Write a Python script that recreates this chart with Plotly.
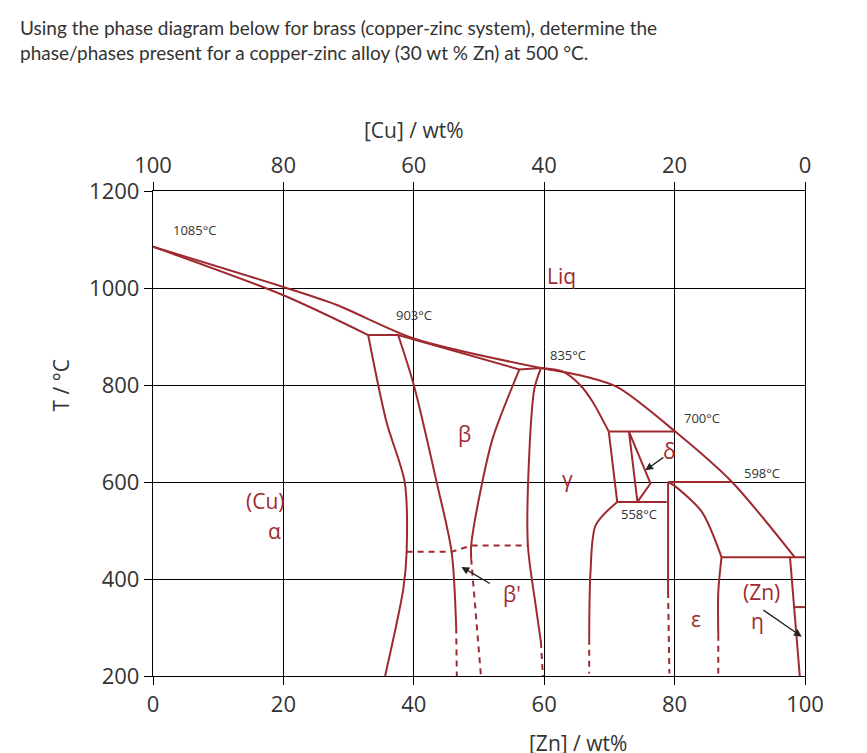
import plotly.graph_objects as go

# ---- data (wt% Zn, T in °C) ----
liquidus_x = [0, 20, 28.2, 40, 59.5]
liquidus_t = [1085, 1002, 965, 896, 835]
liquidus2_x = [59.5, 66.4, 71.3, 80.1, 88.8, 98.4]
liquidus2_t = [835, 817, 795, 704, 600, 445]
alpha_sol_x = [0, 20, 33.0]
alpha_sol_t = [1085, 985, 903]
beta_sol_x = [33.0, 37.6, 56.2, 59.5]
beta_sol_t = [903, 903, 832, 835]
alpha_solvus_x = [33.0, 35.8, 38.6, 38.9, 38.4, 35.6]
alpha_solvus_t = [903, 724, 600, 456, 380, 200]
beta_left_x = [37.6, 40.0, 43.5, 45.8, 46.5]
beta_left_t = [903, 800, 600, 456, 300]
beta_left_dash_x = [46.5, 46.6]
beta_left_dash_t = [300, 200]
beta_right_x = [56.2, 52.1, 50.1, 48.8, 48.8]
beta_right_t = [832, 690, 573, 469, 442]
beta_right_dash_x = [48.8, 50.3]
beta_right_dash_t = [442, 200]
order_dash_x = [38.9, 45.8, 48.8, 57.5]
order_dash_t = [456, 456, 469, 469]
gamma_left_x = [59.5, 58.5, 57.7, 57.5, 58.7, 59.5]
gamma_left_t = [835, 793, 655, 469, 345, 270]
gamma_left_dash_x = [59.5, 59.8]
gamma_left_dash_t = [270, 200]
gamma_sol_x = [59.5, 62.8, 65.5, 67.4, 69.9]
gamma_sol_t = [835, 828, 800, 766, 704]
p700_x = [69.9, 80.1]
p700_t = [704, 704]
gamma_right_x = [69.9, 71.2, 78.8]
gamma_right_t = [704, 559, 559]
gamma_low_x = [71.2, 67.9, 67.1, 66.9]
gamma_low_t = [559, 511, 414, 277]
gamma_low_dash_x = [66.9, 66.9]
gamma_low_dash_t = [277, 205]
delta_x = [74.3, 73.0, 76.3, 74.3]
delta_t = [559, 704, 597, 559]
eps_left_x = [79.0, 79.0, 79.0]
eps_left_t = [600, 559, 373]
eps_left_dash_x = [79.0, 79.2]
eps_left_dash_t = [373, 205]
p598_x = [79.0, 88.8]
p598_t = [600, 600]
eps_right_x = [79.0, 79.9, 84.2, 87.2]
eps_right_t = [600, 593, 538, 445]
eps_right2_x = [87.2, 86.7, 86.7]
eps_right2_t = [445, 373, 285]
eps_right_dash_x = [86.7, 86.7]
eps_right_dash_t = [285, 205]
p420_x = [87.2, 100.2]
p420_t = [445, 445]
zn_solvus_x = [97.7, 99.2]
zn_solvus_t = [445, 200]
zn_tick_x = [98.4, 100]
zn_tick_t = [342, 342]

curved = [(liquidus_x, liquidus_t), (liquidus2_x, liquidus2_t), (alpha_sol_x, alpha_sol_t),
          (alpha_solvus_x, alpha_solvus_t), (beta_left_x, beta_left_t), (beta_right_x, beta_right_t),
          (gamma_left_x, gamma_left_t), (gamma_sol_x, gamma_sol_t), (gamma_low_x, gamma_low_t),
          (eps_right_x, eps_right_t), (eps_right2_x, eps_right2_t)]
straight = [(beta_sol_x, beta_sol_t), (p700_x, p700_t), (gamma_right_x, gamma_right_t),
            (delta_x, delta_t), (eps_left_x, eps_left_t), (p598_x, p598_t),
            (p420_x, p420_t), (zn_solvus_x, zn_solvus_t), (zn_tick_x, zn_tick_t)]
dashed = [(beta_left_dash_x, beta_left_dash_t), (beta_right_dash_x, beta_right_dash_t),
          (order_dash_x, order_dash_t), (gamma_left_dash_x, gamma_left_dash_t),
          (gamma_low_dash_x, gamma_low_dash_t), (eps_left_dash_x, eps_left_dash_t),
          (eps_right_dash_x, eps_right_dash_t)]

temp_labels = [("1085°C", 6.5, 1120), ("903°C", 40.1, 944), ("835°C", 63.6, 861),
               ("700°C", 84.2, 731), ("598°C", 93.4, 619), ("558°C", 74.6, 535), ("420°C", 105, 448)]
phase_labels = [("Liq", 62.7, 1024), ("β", 47.7, 700), ("γ", 63.6, 607), ("δ", 79.2, 663),
                ("(Cu)", 17.2, 560), ("α", 18.7, 500), ("β'", 55.1, 370), ("ε", 83.3, 318),
                ("(Zn)", 93.4, 373), ("η", 92.7, 313)]
arrows = [(51.9, 389, 47.3, 425), (78.5, 653, 75.5, 624), (93.4, 338, 99.5, 281)]

x_ticks = [0, 20, 40, 60, 80, 100]
cu_labels = ["100", "80", "60", "40", "20", "0"]
t_ticks = [200, 400, 600, 800, 1000, 1200]

RED = "#9e2a2f"
fig = go.Figure()
for xs, ts in curved:
    fig.add_trace(go.Scatter(x=xs, y=ts, mode="lines", line=dict(color=RED, width=2, shape="spline", smoothing=0.8),
                             showlegend=False, hoverinfo="skip"))
for xs, ts in straight:
    fig.add_trace(go.Scatter(x=xs, y=ts, mode="lines", line=dict(color=RED, width=2), showlegend=False, hoverinfo="skip"))
for xs, ts in dashed:
    fig.add_trace(go.Scatter(x=xs, y=ts, mode="lines", line=dict(color=RED, width=2, dash="6px,5px"), showlegend=False, hoverinfo="skip"))
fig.add_trace(go.Scatter(x=[None], y=[None], xaxis="x2", showlegend=False))

for txt, x, t in temp_labels:
    fig.add_annotation(x=x, y=t, text=txt, showarrow=False, font=dict(size=13, color="#333"))
for txt, x, t in phase_labels:
    fig.add_annotation(x=x, y=t, text=txt, showarrow=False, font=dict(size=21, color=RED))
for x0, t0, x1, t1 in arrows:
    fig.add_annotation(x=x1, y=t1, ax=x0, ay=t0, axref="x", ayref="y", text="", showarrow=True,
                       arrowhead=2, arrowsize=1.2, arrowwidth=1.3, arrowcolor="#222")

FONT = "Open Sans"
common = dict(automargin=False, tickfont=dict(size=22, color="#333"), ticks="outside", ticklen=8,
              tickcolor="black", zeroline=False)
fig.update_layout(
    width=867, height=753, plot_bgcolor="white", paper_bgcolor="white",
    margin=dict(l=145, r=70, t=183, b=85),
    font=dict(family=FONT, color="#333"),
    xaxis=dict(range=[0, 100], tickvals=x_ticks, showgrid=True, gridcolor="black", gridwidth=1.3,
               showline=True, linecolor="black", mirror=True, linewidth=1.3, **common),
    xaxis2=dict(range=[0, 100], overlaying="x", side="top", tickvals=x_ticks, ticktext=cu_labels,
                showgrid=False, **common),
    yaxis=dict(range=[200, 1200], tickvals=t_ticks, showgrid=True, gridcolor="black", gridwidth=1.3,
               showline=True, linecolor="black", mirror=True, linewidth=1.3, **common),
)
fig.add_annotation(xref="paper", yref="paper", x=-0.165, y=0.6, text="T / °C", textangle=-90,
                   showarrow=False, font=dict(size=21, color="#333"))
fig.add_annotation(xref="paper", yref="paper", x=0.73, y=-0.138, text="[Zn] / wt%",
                   showarrow=False, font=dict(size=21, color="#333"), yanchor="middle")
fig.add_annotation(xref="paper", yref="paper", x=0.32, y=1.125, text="[Cu] / wt%",
                   showarrow=False, font=dict(size=21, color="#333"), yanchor="middle")
fig.add_annotation(xref="paper", yref="paper", x=-0.207, y=1.365, xanchor="left", align="left",
                   yanchor="top",
                   text="Using the phase diagram below for brass (copper-zinc system), determine the<br>phase/phases present for a copper-zinc alloy (30 wt % Zn) at 500 °C.",
                   showarrow=False, font=dict(family="Lato", size=19, color="#333"))
fig.write_html("out.html")
